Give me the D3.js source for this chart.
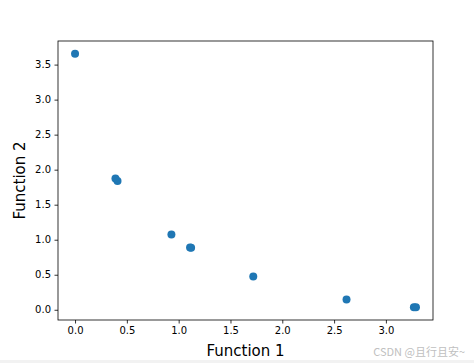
<!DOCTYPE html>
<html>
<head>
<meta charset="utf-8">
<script src="https://cdn.jsdelivr.net/npm/d3@7"></script>
<style>
  body { margin: 0; background: #fff; }
  svg { display: block; }
</style>
</head>
<body>
<div id="chart"></div>
<script>
// pareto front points
var f1 = [0.00, 0.39, 0.41, 0.93, 1.11, 1.12, 1.72, 2.62, 3.27, 3.29];
var f2 = [3.655, 1.875, 1.84, 1.075, 0.89, 0.885, 0.475, 0.146, 0.037, 0.037];
var xTicks = [0.0, 0.5, 1.0, 1.5, 2.0, 2.5, 3.0];
var yTicks = [0.0, 0.5, 1.0, 1.5, 2.0, 2.5, 3.0, 3.5];

var W = 474, H = 363;
var margin = { top: 41, left: 58, right: 41, bottom: 43 };
var width = W - margin.left - margin.right,
    height = H - margin.top - margin.bottom;

var svg = d3.select('#chart').append('svg')
    .attr('width', W)
    .attr('height', H);

// light grey strip at very bottom of screenshot
svg.append('rect')
    .attr('x', 0).attr('y', 360).attr('width', W).attr('height', 3)
    .attr('fill', '#f2f2f2');

var g = svg.append('g')
    .attr('transform', 'translate(' + margin.left + ',' + margin.top + ')');

var x = d3.scaleLinear().domain([-0.1645, 3.4545]).range([0, width]);
var y = d3.scaleLinear().domain([-0.146, 3.837]).range([height, 0]);

var xAxis = d3.axisBottom(x).tickValues(xTicks).tickFormat(d3.format('.1f')).tickSize(3.5).tickPadding(3.5);
var yAxis = d3.axisLeft(y).tickValues(yTicks).tickFormat(d3.format('.1f')).tickSize(3.5).tickPadding(3.5);

var gx = g.append('g').attr('transform', 'translate(0,' + height + ')').call(xAxis);
var gy = g.append('g').call(yAxis);
[gx, gy].forEach(function(a) {
    a.select('.domain').remove();
    a.selectAll('text').attr('font-family', 'DejaVu Sans').attr('font-size', 10).attr('fill', '#000');
    a.selectAll('line').attr('stroke', '#000').attr('stroke-width', 0.8);
});

g.append('rect')
    .attr('width', width).attr('height', height)
    .attr('fill', 'none').attr('stroke', '#000').attr('stroke-width', 0.8);

g.selectAll('circle')
    .data(f1)
    .enter().append('circle')
    .attr('cx', function(d) { return x(d); })
    .attr('cy', function(d, i) { return y(f2[i]); })
    .attr('r', 4)
    .attr('fill', '#1f77b4');

svg.append('text')
    .attr('x', margin.left + width / 2).attr('y', 356)
    .attr('text-anchor', 'middle')
    .attr('font-family', 'DejaVu Sans').attr('font-size', 15)
    .text('Function 1');

svg.append('text')
    .attr('transform', 'translate(25,' + (margin.top + height / 2) + ') rotate(-90)')
    .attr('text-anchor', 'middle')
    .attr('font-family', 'DejaVu Sans').attr('font-size', 15)
    .text('Function 2');

svg.append('text')
    .attr('x', 465).attr('y', 356)
    .attr('text-anchor', 'end')
    .attr('font-family', 'Noto Sans CJK SC').attr('font-size', 11)
    .attr('fill', '#c0c0c0')
    .text('CSDN @且行且安~');
</script>
</body>
</html>
